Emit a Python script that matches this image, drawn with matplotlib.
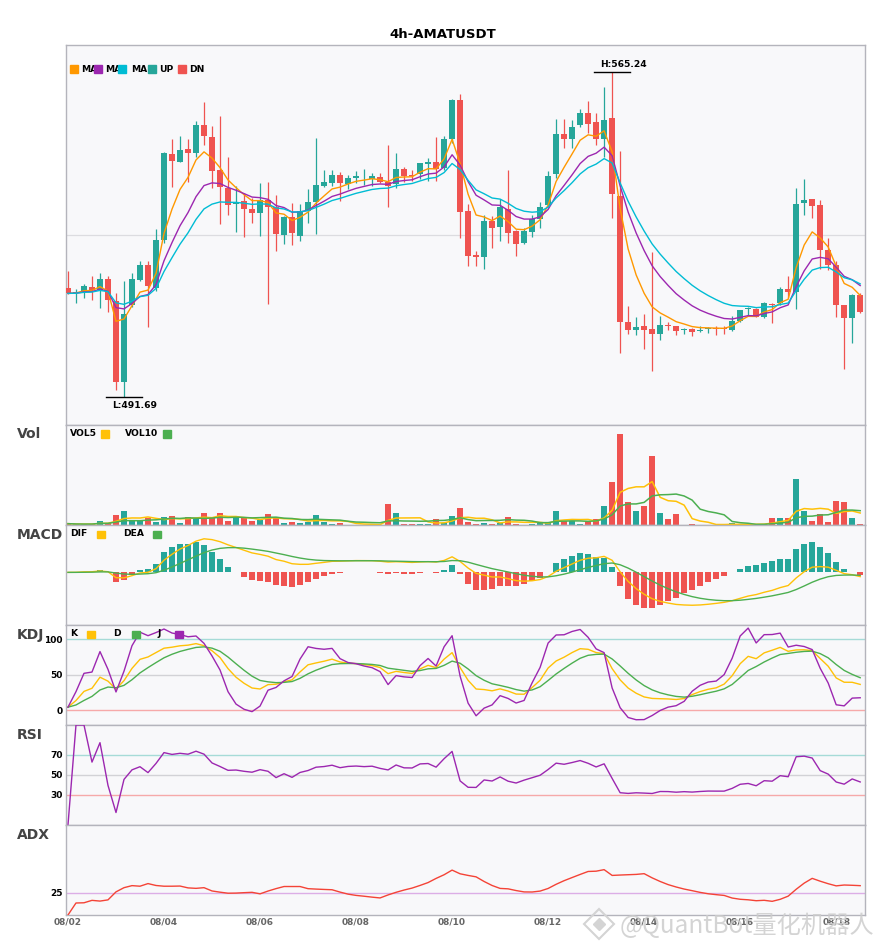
import numpy as np
import pandas as pd
import matplotlib
matplotlib.use("Agg")
import matplotlib.pyplot as plt
from matplotlib.patches import Rectangle
from matplotlib.lines import Line2D

# 4h candles, 08/02 00:00 .. 08/18 12:00
symbol = "4h-AMATUSDT"
tick_labels = ["08/02", "08/04", "08/06", "08/08", "08/10", "08/12", "08/14", "08/16", "08/18"]

opens = [516.30, 515.17, 515.55, 516.53, 515.93, 518.41, 513.44, 495.22, 512.54, 518.18,
         521.57, 516.45, 527.22, 546.65, 544.92, 547.70, 546.80, 553.20, 550.41, 543.03,
         538.97, 535.28, 536.03, 534.22, 533.40, 536.26, 534.75, 528.43, 532.49, 528.20,
         533.77, 535.88, 539.50, 540.17, 541.90, 539.95, 541.30, 541.15, 541.08, 541.38,
         540.25, 539.80, 543.26, 541.90, 542.06, 544.47, 544.77, 543.41, 550.04, 558.85,
         533.77, 523.76, 523.46, 531.51, 530.23, 534.22, 529.26, 526.62, 529.11, 531.97,
         535.13, 542.13, 551.17, 550.04, 553.27, 555.91, 553.88, 550.04, 554.78, 537.16,
         508.70, 506.97, 507.79, 507.12, 505.98, 508.02, 507.87, 506.82, 507.19, 506.74,
         507.04, 507.34, 507.34, 506.97, 508.92, 511.56, 511.63, 509.83, 512.76, 512.90,
         516.15, 515.40, 535.66, 536.48, 535.13, 524.96, 521.57, 512.54, 509.68, 514.80]
highs = [520.29, 516.08, 517.28, 519.09, 519.69, 519.09, 515.17, 517.96, 519.69, 522.48,
         522.48, 529.71, 547.00, 550.04, 550.72, 550.04, 554.10, 558.40, 552.97, 555.23,
         546.05, 539.50, 537.76, 536.78, 540.10, 540.32, 537.39, 532.60, 535.58, 535.35,
         538.74, 550.26, 543.03, 543.03, 542.51, 541.90, 542.81, 543.26, 542.28, 542.28,
         548.68, 546.80, 543.71, 543.03, 544.70, 545.82, 550.49, 550.72, 559.00, 560.20,
         535.35, 524.81, 532.87, 532.64, 536.41, 543.03, 529.48, 529.86, 532.87, 535.88,
         542.81, 554.55, 554.55, 554.33, 556.74, 558.62, 555.83, 561.78, 565.24, 547.40,
         512.31, 509.75, 510.50, 524.43, 510.05, 508.77, 507.90, 507.27, 507.25, 507.79,
         507.64, 507.87, 507.87, 510.13, 511.45, 512.16, 511.86, 513.21, 512.91, 516.53,
         519.09, 538.97, 541.00, 536.55, 536.26, 527.60, 522.55, 512.60, 515.02, 515.32]
lows = [514.95, 513.07, 514.20, 513.67, 511.86, 510.88, 493.33, 491.69, 512.16, 517.90,
        507.64, 515.80, 526.50, 539.27, 544.77, 540.25, 546.05, 548.68, 539.05, 530.84,
        532.79, 529.11, 527.98, 530.99, 528.20, 512.69, 524.81, 526.39, 526.17, 527.07,
        531.14, 528.65, 539.27, 539.42, 535.96, 538.74, 540.02, 539.65, 539.42, 540.02,
        534.75, 538.97, 540.40, 540.63, 540.93, 540.63, 540.63, 543.03, 549.06, 527.75,
        521.42, 521.42, 520.67, 525.49, 527.07, 526.62, 523.68, 526.24, 527.98, 530.01,
        534.75, 541.15, 547.93, 548.08, 552.82, 551.47, 548.68, 546.05, 532.27, 501.77,
        505.98, 505.76, 502.52, 497.70, 504.63, 506.89, 505.76, 505.98, 505.53, 506.51,
        506.28, 505.76, 505.98, 506.74, 508.77, 510.28, 509.85, 509.68, 508.55, 512.46,
        514.04, 511.71, 532.79, 532.12, 520.59, 520.44, 509.90, 498.00, 503.88, 510.80]
closes = [515.17, 515.40, 516.83, 515.93, 518.41, 513.67, 495.22, 510.43, 518.41, 521.57,
          516.83, 527.22, 546.80, 545.14, 547.55, 546.80, 553.20, 550.79, 542.88, 539.27,
          535.20, 535.58, 534.30, 533.40, 536.18, 534.75, 528.65, 532.49, 528.80, 533.77,
          535.88, 539.65, 540.40, 541.90, 540.02, 541.30, 541.68, 541.30, 541.68, 540.40,
          539.50, 543.26, 541.68, 541.60, 544.62, 544.92, 543.18, 550.04, 558.85, 533.62,
          523.68, 523.46, 531.51, 530.01, 534.68, 528.88, 526.24, 529.33, 531.97, 534.68,
          541.68, 551.17, 550.04, 552.75, 555.91, 553.43, 550.04, 554.33, 537.61, 508.77,
          506.89, 507.64, 506.89, 505.98, 508.02, 507.87, 506.74, 507.19, 506.51, 506.97,
          507.27, 507.19, 507.19, 508.85, 511.41, 511.93, 509.90, 512.99, 512.61, 516.15,
          515.40, 535.35, 536.26, 534.98, 524.96, 521.57, 512.54, 509.68, 514.80, 511.03]
volumes = [4, 2, 2, 3, 13, 6, 31, 43, 12, 12,
           22, 10, 25, 28, 7, 25, 20, 37, 20, 37,
           13, 20, 20, 13, 15, 34, 25, 7, 10, 7,
           10, 31, 10, 4, 7, 1, 1, 1, 1, 1,
           64, 37, 2, 2, 2, 4, 19, 6, 28, 52,
           10, 4, 7, 4, 6, 25, 4, 1, 4, 6,
           10, 43, 12, 12, 4, 12, 19, 58, 127, 271,
           70, 43, 58, 205, 37, 19, 34, 1, 4, 1,
           1, 0.5, 0.5, 7, 1, 2, 1, 2, 22, 22,
           22, 136, 43, 13, 34, 10, 73, 70, 22, 4]

UP = "#26a69a"
DN = "#ef5350"
YEL = "#ffc107"
GRN = "#4caf50"
PUR = "#9c27b0"

o = pd.Series(opens)
h = pd.Series(highs)
l = pd.Series(lows)
c = pd.Series(closes)
v = pd.Series(volumes, dtype=float)
x = np.arange(len(c))
colors = [UP if cc >= oo else DN for oo, cc in zip(opens, closes)]

# Indicators
ma1 = c.ewm(span=5, adjust=False).mean()
ma2 = c.ewm(span=10, adjust=False).mean()
ma3 = c.ewm(span=15, adjust=False).mean()
vol5 = v.rolling(5, min_periods=1).mean()
vol10 = v.rolling(10, min_periods=1).mean()

dif = c.ewm(span=12, adjust=False).mean() - c.ewm(span=26, adjust=False).mean()
dea = dif.ewm(span=9, adjust=False).mean()
hist = 2 * (dif - dea)

low9 = l.rolling(9, min_periods=1).min()
high9 = h.rolling(9, min_periods=1).max()
rsv = (c - low9) / (high9 - low9) * 100
kk = rsv.ewm(com=2, adjust=False).mean()
dd = kk.ewm(com=2, adjust=False).mean()
jj = 3 * kk - 2 * dd

delta = c.diff()
gain = delta.clip(lower=0).ewm(com=13).mean()
loss = (-delta.clip(upper=0)).ewm(com=13).mean()
rsi = (100 * gain / (gain + loss)).fillna(0)

up_move = h.diff()
dn_move = -l.diff()
pdm = pd.Series(np.where((up_move > dn_move) & (up_move > 0), up_move, 0.0))
mdm = pd.Series(np.where((dn_move > up_move) & (dn_move > 0), dn_move, 0.0))
pdm_s = pdm.ewm(span=14, adjust=False).mean()
mdm_s = mdm.ewm(span=14, adjust=False).mean()
dx = (100 * (pdm_s - mdm_s).abs() / (pdm_s + mdm_s)).fillna(0)
adx = dx.ewm(span=14, adjust=False).mean()

# Figure / panels (pixel layout of the reference)
W, H = 885, 950
fig = plt.figure(figsize=(W / 100, H / 100), dpi=100)
plt.rcParams["font.family"] = ["DejaVu Sans"]


def panel(top, bottom):
    ax = fig.add_axes([65.5 / W, 1 - bottom / H, 799.5 / W, (bottom - top) / H])
    ax.set_facecolor("#f8f8fa")
    for s in ax.spines.values():
        s.set_color("#b4b4bc")
        s.set_linewidth(1.0)
    ax.set_xlim(-0.31, len(c) - 0.4)
    ax.tick_params(length=0, pad=2, labelsize=6.5, colors="black")
    ax.set_xticks([])
    return ax


def legend(items, ypix):
    for xpix, color, label in items:
        if color is not None:
            fig.add_artist(Rectangle((xpix / W, 1 - (ypix + 4) / H), 8 / W, 7.5 / H,
                                     color=color, transform=fig.transFigure, zorder=5))
        if label:
            fig.text(xpix / W, 1 - ypix / H, label, fontsize=6.6, fontweight="bold",
                     va="center", ha="left", zorder=4)


def side_label(text, ypix):
    fig.text(17 / W, 1 - ypix / H, text, fontsize=10, fontweight="bold",
             color="#444444", va="center", ha="left")


# Main candle panel
ax = panel(45, 425)
hi, lo = h.max(), l.min()
rng = hi - lo
ax.set_ylim(lo - 0.085 * rng, hi + 0.082 * rng)
ax.set_yticks([(lo - 0.085 * rng + hi + 0.082 * rng) / 2])
ax.set_yticklabels([])
ax.grid(axis="y", color="#dcdce0", lw=0.9)
ax.vlines(x, l, h, colors=colors, lw=0.9, zorder=2)
body = (c - o).abs().clip(lower=0.15)
ax.bar(x, body, bottom=np.minimum(o, c), width=0.75, color=colors, zorder=3)
ax.plot(x, ma1, color="#ff9800", lw=1.0, zorder=4)
ax.plot(x, ma2, color=PUR, lw=1.0, zorder=4)
ax.plot(x, ma3, color="#00bcd4", lw=1.0, zorder=4)
kh, kl = int(h.idxmax()), int(l.idxmin())
ax.plot([kh - 2.25, kh + 2.25], [hi, hi], color="black", lw=1.0, zorder=5)
ax.annotate(f"H:{hi:.2f}", (kh - 1.5, hi), xytext=(0, 2), textcoords="offset points",
            fontsize=6.6, fontweight="bold", va="bottom", ha="left")
ax.plot([kl - 2.25, kl + 2.25], [lo, lo], color="black", lw=1.0, zorder=5)
ax.annotate(f"L:{lo:.2f}", (kl - 1.5, lo), xytext=(0, -2.5), textcoords="offset points",
            fontsize=6.6, fontweight="bold", va="top", ha="left")
fig.text(0.5, 1 - 34 / H, symbol, fontsize=9.5, fontweight="bold", ha="center", va="center")
legend([(70, "#ff9800", None), (81, None, "MA"), (94, PUR, None), (105, None, "MA"),
        (118, "#00bcd4", None), (131, None, "MA"), (148, UP, None), (159, None, "UP"),
        (178, DN, None), (189, None, "DN")], 69)

# Volume
axv = panel(425, 525)
axv.bar(x, v, width=0.75, color=colors, zorder=2)
axv.plot(x, vol5, color=YEL, lw=1.1, zorder=3)
axv.plot(x, vol10, color=GRN, lw=1.1, zorder=3)
axv.set_ylim(0, v.max() * 1.1)
axv.set_yticks([])
side_label("Vol", 434)
legend([(70, None, "VOL5"), (101, YEL, None), (125, None, "VOL10"), (163, GRN, None)], 433.5)

# MACD
axm = panel(525, 625)
axm.bar(x, hist, width=0.75, color=[UP if val >= 0 else DN for val in hist], zorder=2)
axm.plot(x, dif, color=YEL, lw=1.0, zorder=3)
axm.plot(x, dea, color=GRN, lw=1.0, zorder=3)
mlo = min(hist.min(), dif.min(), dea.min())
mhi = max(hist.max(), dif.max(), dea.max())
mr = mhi - mlo
axm.set_ylim(mlo - 0.25 * mr, mhi + 0.2 * mr)
axm.set_yticks([])
side_label("MACD", 535)
legend([(70, None, "DIF"), (97, YEL, None), (123, None, "DEA"), (153, GRN, None)], 534)

# KDJ
axk = panel(625, 725)
axk.axhline(100, color="#a6dbd7", lw=1.0, zorder=1)
axk.axhline(50, color="#d2d2d6", lw=1.0, zorder=1)
axk.axhline(0, color="#f6a9a9", lw=1.0, zorder=1)
axk.plot(x, kk, color=YEL, lw=1.0, zorder=3)
axk.plot(x, dd, color=GRN, lw=1.0, zorder=3)
axk.plot(x, jj, color=PUR, lw=1.0, zorder=3)
axk.set_ylim(-21, 120)
axk.set_yticks([0, 50, 100])
axk.set_yticklabels(["0", "50", "100"], fontweight="bold")
side_label("KDJ", 635)
legend([(70, None, "K"), (87, YEL, None), (113, None, "D"), (132, GRN, None),
        (157, None, "J"), (175, PUR, None)], 634)

# RSI
axr = panel(725, 825)
axr.axhline(70, color="#a6dbd7", lw=1.0, zorder=1)
axr.axhline(50, color="#d2d2d6", lw=1.0, zorder=1)
axr.axhline(30, color="#f6a9a9", lw=1.0, zorder=1)
axr.plot(x, rsi, color=PUR, lw=1.0, zorder=3)
axr.set_ylim(0, 100)
axr.set_yticks([30, 50, 70])
axr.set_yticklabels(["30", "50", "70"], fontweight="bold")
side_label("RSI", 735)

# ADX
axa = panel(825, 915)
axa.axhline(25, color="#dcaee6", lw=1.0, zorder=1)
axa.plot(x, adx, color="#f44336", lw=1.0, zorder=3)
axa.set_ylim(0, 100)
axa.set_yticks([25])
axa.set_yticklabels(["25"], fontweight="bold")
axa.set_xticks(range(0, len(c), 12))
axa.set_xticklabels(tick_labels, fontweight="bold", color="#666666", fontsize=6.5)
side_label("ADX", 835)

# Watermark
fig.add_artist(Line2D([599 / W], [1 - 924 / H], marker="D", markersize=15, mfc="none",
                      mec="#d4d4d4", mew=1.5, transform=fig.transFigure, zorder=6))
fig.add_artist(Line2D([599 / W], [1 - 924 / H], marker="D", markersize=6, mfc="#d4d4d4",
                      mec="#d4d4d4", transform=fig.transFigure, zorder=6))
fig.text(620 / W, 1 - 926 / H, "@QuantBot量化机器人", fontsize=17.5, color="#cdcdcd",
         alpha=0.85, family=["Noto Sans CJK SC", "DejaVu Sans"], va="center", ha="left", zorder=6)

fig.savefig("out.png", dpi=100)
